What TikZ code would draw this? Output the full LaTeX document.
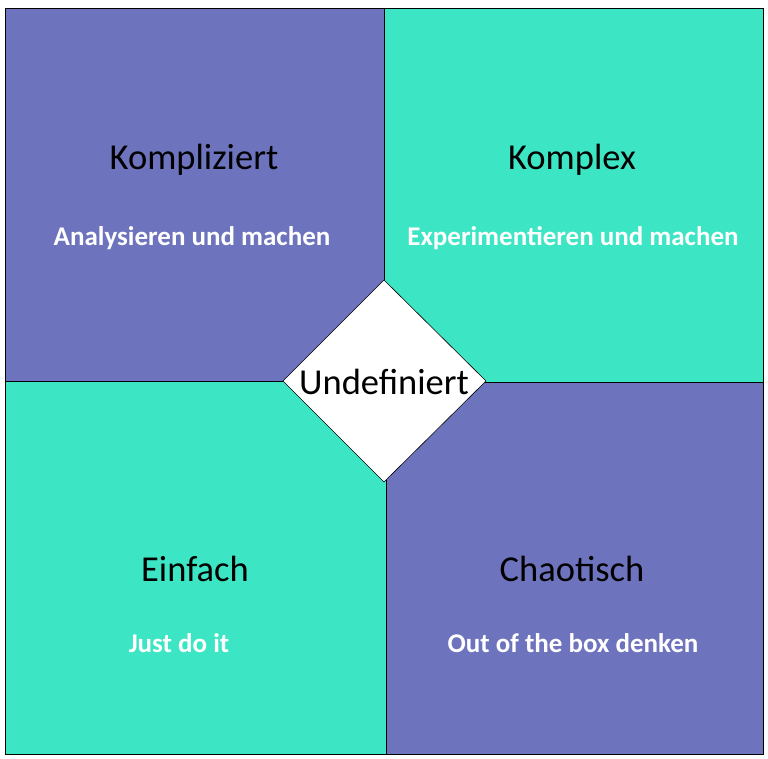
\documentclass[tikz,border=0pt]{standalone}
\usepackage{fontspec}
\setmainfont{Carlito}
\definecolor{purp}{HTML}{6E73BE}
\definecolor{teal2}{HTML}{3CE6C4}
\begin{document}
\begin{tikzpicture}[x=1pt,y=-1pt,
  quad/.style={draw=black,line width=0.6pt},
  ttl/.style={font=\fontsize{36.5}{40}\selectfont,text=black},
  sub/.style={font=\bfseries\fontsize{27}{30}\selectfont,text=white}]
\useasboundingbox (0,0) rectangle (768,759);
\fill[white] (0,0) rectangle (768,759);
\filldraw[quad,fill=purp] (5,8) rectangle (384,381);
\filldraw[quad,fill=teal2] (384,8) rectangle (763,382);
\filldraw[quad,fill=teal2] (5,381) rectangle (386,754);
\filldraw[quad,fill=purp] (386,382) rectangle (763,754);
\filldraw[quad,fill=white] (384,280) -- (486,381) -- (384,482) -- (283,381) -- cycle;
\node[ttl] (u) at (384,382) {Undefiniert};
\node[ttl] (k1) at (194,160) {Kompliziert};
\node[sub] (k1s) at (192,238) {Analysieren und machen};
\node[ttl] (k2) at (572,160) {Komplex};
\node[sub] (k2s) at (573,238) {Experimentieren und machen};
\node[ttl] (e) at (195,569) {Einfach};
\node[sub] (es) at (179,643) {Just do it};
\node[ttl] (c) at (572,569) {Chaotisch};
\node[sub] (cs) at (573,643) {Out of the box denken};
\end{tikzpicture}
\end{document}
